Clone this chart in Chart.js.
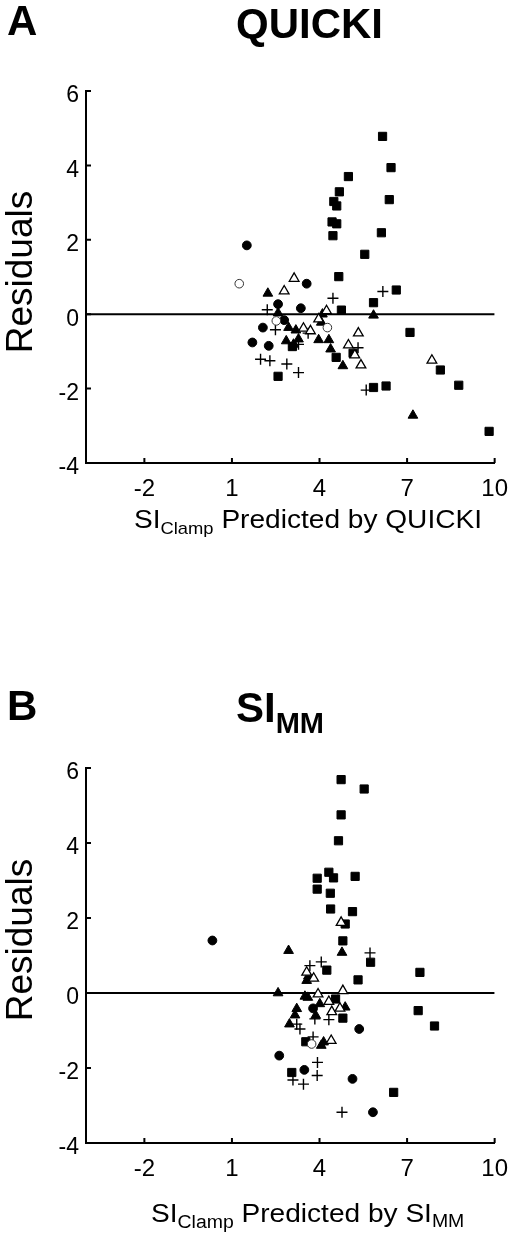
<!DOCTYPE html>
<html>
<head>
<meta charset="utf-8">
<script src="https://cdn.jsdelivr.net/npm/chart.js@4"></script>
<style>
body { margin: 0; background: #fff; }
.panel { position: relative; width: 520px; height: 619px; }
</style>
</head>
<body>
<div class="panel"><canvas id="chartA"></canvas></div>
<div class="panel"><canvas id="chartB"></canvas></div>
<script>
// axes
const xTicks = [-2, 1, 4, 7, 10];
const yTicks = [-4, -2, 0, 2, 4, 6];
const zeroLine = [[-4, 0], [10, 0]];

// panel A - SI clamp predicted by QUICKI
const aSquares = [[6.16,4.78],[6.45,3.94],[4.99,3.70],[4.68,3.29],[4.49,3.03],[4.59,2.91],[6.39,3.08],
  [4.43,2.48],[4.59,2.43],[4.46,2.11],[6.12,2.19],[5.55,1.61],[4.66,1.01],[4.75,0.11],[3.07,-0.87],
  [4.57,-1.16],[5.15,-1.05],[2.58,-1.67],[5.85,0.31],[6.63,0.65],[7.10,-0.49],[8.14,-1.50],[8.77,-1.91],
  [5.85,-1.97],[6.28,-1.93],[9.81,-3.15]];
const aCircles = [[1.51,1.85],[3.56,0.82],[2.58,0.27],[3.36,0.16],[2.79,-0.16],[2.06,-0.36],[1.70,-0.76],[2.26,-0.85]];
const aOpenCircles = [[1.25,0.82],[2.52,-0.18],[4.27,-0.36]];
const aTriangles = [[2.23,0.56],[2.58,0.03],[2.94,-0.36],[3.19,-0.43],[2.86,-0.72],[3.28,-0.67],[3.11,-0.81],
  [3.97,-0.69],[4.32,-0.69],[4.38,-0.94],[4.80,-1.39],[4.10,0.0],[4.06,-0.22],[5.85,-0.03],[7.20,-2.72]];
const aOpenTriangles = [[3.13,0.96],[2.79,0.62],[4.24,0.09],[3.97,-0.13],[3.45,-0.38],[3.69,-0.45],[5.33,-0.51],
  [4.99,-0.83],[5.21,-1.10],[5.42,-1.37],[7.85,-1.24]];
const aPluses = [[6.17,0.61],[4.46,0.43],[2.21,0.12],[2.49,-0.42],[3.61,-0.51],[3.28,-0.81],[1.98,-1.21],
  [2.30,-1.25],[2.88,-1.34],[3.28,-1.57],[5.32,-0.90],[5.60,-2.04]];

// panel B - SI clamp predicted by SI MM
const bSquares = [[4.74,5.69],[5.53,5.44],[4.74,4.75],[4.65,4.06],[4.32,3.22],[4.48,3.07],[3.92,3.06],
  [5.22,3.11],[3.92,2.77],[4.37,2.66],[4.38,2.24],[5.13,2.17],[4.88,1.84],[4.80,1.39],[5.75,0.82],
  [4.25,0.61],[5.32,0.35],[7.44,0.55],[4.55,-0.16],[4.80,-0.67],[7.38,-0.47],[7.94,-0.88],[3.53,-1.30],
  [3.05,-2.12],[6.54,-2.65]];
const bCircles = [[0.33,1.40],[3.78,-0.41],[5.36,-0.96],[2.62,-1.67],[3.48,-2.05],[5.13,-2.29],[5.83,-3.18]];
const bOpenCircles = [[3.73,-1.36]];
const bTriangles = [[2.94,1.13],[4.77,1.08],[3.56,0.33],[3.62,0.45],[2.58,0.0],[3.50,-0.09],[3.60,-0.12],
  [4.01,-0.29],[4.88,-0.38],[3.22,-0.42],[3.16,-0.59],[3.87,-0.60],[2.97,-0.83],[4.06,-1.40],[4.14,-1.31]];
const bOpenTriangles = [[4.74,1.88],[3.56,0.55],[3.80,0.39],[3.95,-0.03],[4.80,0.06],[4.32,-0.23],[4.42,-0.50],
  [4.70,-0.41],[4.40,-1.27]];
const bPluses = [[5.73,1.07],[4.06,0.83],[3.67,0.73],[4.32,-0.71],[3.84,-0.69],[3.22,-0.83],[3.33,-0.96],
  [3.78,-1.17],[3.93,-1.85],[3.09,-2.32],[3.45,-2.43],[3.92,-2.20],[4.77,-3.18]];

const FONT = '"Liberation Sans", Arial, Helvetica, sans-serif';
const pts = arr => arr.map(([x, y]) => ({x, y}));

// draws a piece of text, returns x where the next piece starts
function put(ctx, str, x, y, size, bold, sx) {
  ctx.save();
  ctx.font = (bold ? 'bold ' : '') + size + 'px ' + FONT;
  ctx.translate(x, y);
  ctx.scale(sx, 1);
  ctx.fillText(str, 0, 0);
  const w = ctx.measureText(str).width * sx;
  ctx.restore();
  return x + w;
}

const panelText = {
  id: 'panelText',
  afterDraw(chart, args, o) {
    const ctx = chart.ctx;
    const {left, bottom} = chart.chartArea;
    const xs = chart.scales.x, ys = chart.scales.y;
    ctx.save();
    // inward tick marks
    ctx.strokeStyle = '#000';
    ctx.lineWidth = 2;
    ctx.beginPath();
    ys.ticks.forEach(t => { const p = ys.getPixelForValue(t.value); ctx.moveTo(left, p); ctx.lineTo(left + 5, p); });
    xs.ticks.forEach(t => { const p = xs.getPixelForValue(t.value); ctx.moveTo(p, bottom); ctx.lineTo(p, bottom - 5); });
    ctx.stroke();

    ctx.fillStyle = '#000';
    ctx.textBaseline = 'alphabetic';
    put(ctx, o.letter, 7, o.letterY, 42, true, 1);
    let x = put(ctx, o.title, o.titleX, o.titleY, 42, true, 1);
    if (o.titleSub) put(ctx, o.titleSub, x, o.titleY + 11, 29, true, 1);

    ctx.save();
    ctx.translate(32, o.yTitleMid);
    ctx.rotate(-Math.PI / 2);
    ctx.font = '37px ' + FONT;
    ctx.textAlign = 'center';
    ctx.fillText('Residuals', 0, 0);
    ctx.restore();

    x = put(ctx, 'SI', o.xTitleX, o.xTitleY, 26, false, 1.08);
    x = put(ctx, 'Clamp', x, o.xTitleY + 6, o.subSize, false, 1.08);
    x = put(ctx, o.xTitleRest, x, o.xTitleY, 26, false, 1.08);
    if (o.xTitleSub) put(ctx, o.xTitleSub, x, o.xTitleY + 5, o.subSize, false, 1.08);
    ctx.restore();
  }
};

function datasets(sq, ci, oc, tr, ot, pl) {
  return [
    {data: pts(ot), pointStyle: 'triangle', pointRadius: 5.6, backgroundColor: '#fff', borderColor: '#000', borderWidth: 1.3},
    {data: pts(oc), pointStyle: 'circle', pointRadius: 4.3, backgroundColor: '#fff', borderColor: '#333', borderWidth: 1},
    {data: pts(pl), pointStyle: 'cross', pointRadius: 5.5, borderColor: '#000', borderWidth: 1.4},
    {data: pts(tr), pointStyle: 'triangle', pointRadius: 5.6, backgroundColor: '#000', borderColor: '#000', borderWidth: 1},
    {data: pts(ci), pointStyle: 'circle', pointRadius: 4.4, backgroundColor: '#000', borderColor: '#000', borderWidth: 1},
    {data: pts(sq), pointStyle: 'rect', pointRadius: 5.8, backgroundColor: '#000', borderColor: '#000', borderWidth: 1},
    {data: pts(zeroLine), showLine: true, pointRadius: 0, borderColor: '#000', borderWidth: 2}
  ];
}

function makeChart(id, data, padTop, padBottom, text) {
  return new Chart(document.getElementById(id), {
    type: 'scatter',
    data: {datasets: data},
    plugins: [panelText],
    options: {
      responsive: true,
      maintainAspectRatio: false,
      animation: false,
      events: [],
      layout: {padding: {left: 0, right: 19, top: padTop, bottom: padBottom}},
      plugins: {legend: {display: false}, tooltip: {enabled: false}, panelText: text},
      scales: {
        x: {
          type: 'linear', min: -4, max: 10,
          afterBuildTicks: s => { s.ticks = xTicks.map(v => ({value: v})); },
          afterFit: s => { s.height = 60; },
          grid: {display: false, drawTicks: false},
          border: {display: true, color: '#000', width: 2},
          ticks: {color: '#000', font: {family: FONT, size: 24}, padding: 12, maxRotation: 0, autoSkip: false}
        },
        y: {
          type: 'linear', min: -4, max: 6,
          afterBuildTicks: s => { s.ticks = yTicks.map(v => ({value: v})); },
          afterFit: s => { s.width = 86; },
          grid: {display: false, drawTicks: false},
          border: {display: true, color: '#000', width: 2},
          ticks: {color: '#000', font: {family: FONT, size: 23}, padding: 7, labelOffset: 5}
        }
      }
    }
  });
}

makeChart('chartA', datasets(aSquares, aCircles, aOpenCircles, aTriangles, aOpenTriangles, aPluses), 91, 96, {
  letter: 'A', letterY: 35, title: 'QUICKI', titleX: 236, titleY: 38, titleSub: '',
  yTitleMid: 272, xTitleX: 134, xTitleY: 528, xTitleRest: ' Predicted by QUICKI', xTitleSub: '', subSize: 17
});
makeChart('chartB', datasets(bSquares, bCircles, bOpenCircles, bTriangles, bOpenTriangles, bPluses), 149, 35, {
  letter: 'B', letterY: 101, title: 'SI', titleX: 236, titleY: 103, titleSub: 'MM',
  yTitleMid: 321, xTitleX: 151, xTitleY: 603, xTitleRest: ' Predicted by SI', xTitleSub: 'MM', subSize: 18
});
</script>
</body>
</html>
